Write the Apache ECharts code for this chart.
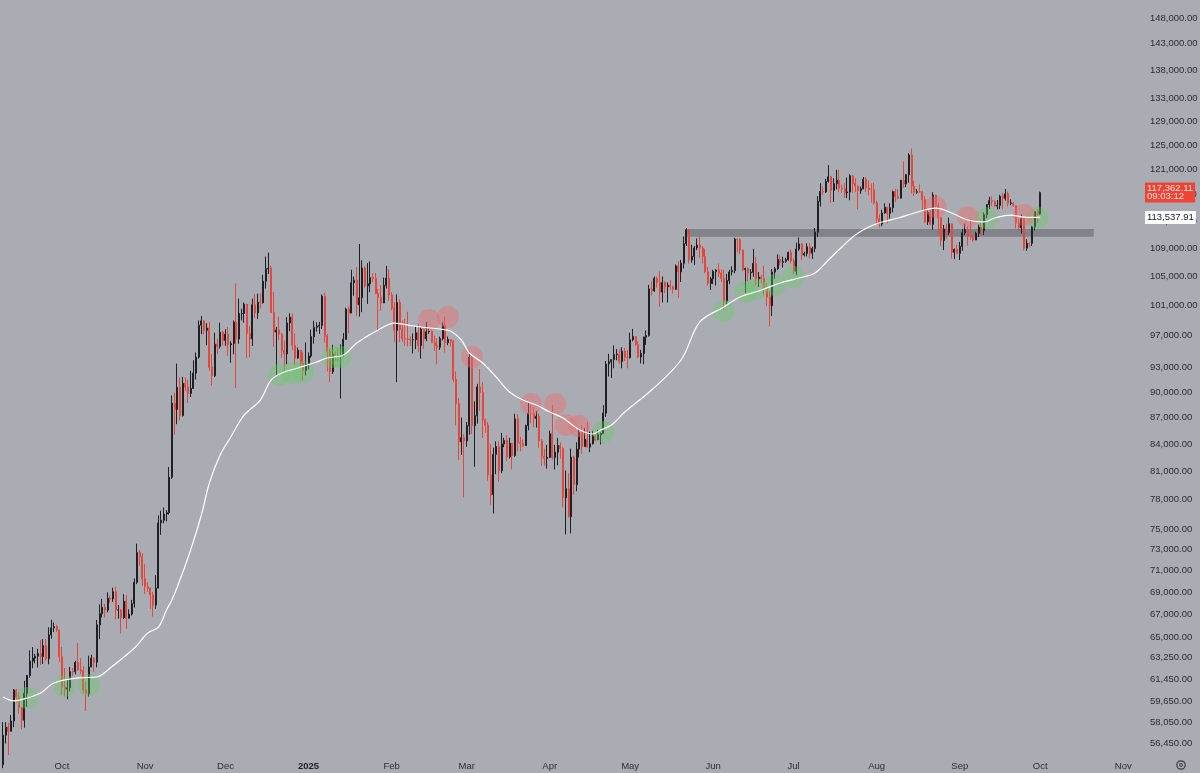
<!DOCTYPE html>
<html><head><meta charset="utf-8">
<script src="https://cdn.jsdelivr.net/npm/echarts@6/dist/echarts.min.js"></script>
<style>html,body{margin:0;padding:0;background:#aaacb3;}#c{width:1200px;height:773px;}</style>
</head><body><div id="c"></div>
<script>
// ---------- DATA ----------
const startDate = [2024, 8, 9];   // 2024-09-09 (first candle)
const totalDays = 424;            // axis runs to early Nov 2025
const firstOpen = 54840;
const closes = [
57040,57650,57340,58130,60570,60000,59180,58190,60310,61760,62950,63200,63350,63580,63330,64260,63140,65180,65790,65890,65600,63300,
60800,60630,60750,62070,62060,62820,62220,62130,60580,60270,62450,63190,62850,66050,67040,67610,67370,68430,68360,69030,67370,67370,66680,68160,66630,67010,67930,69900,72720,72340,70220,
69480,69340,68740,67810,69360,75640,75900,76540,76680,80370,88700,87950,90580,87250,91070,90600,89850,90450,92310,94290,98370,98950,97720,98010,93010,91970,95920,95650,97460,96410,
97190,95840,96000,98770,96590,99920,99920,101170,97320,96600,101100,100000,101420,101370,104300,106030,106140,100040,97490,97760,97220,95100,94690,98680,99430,95790,94170,95160,93530,92640,93430,
94420,96890,98110,98240,98360,102240,96950,95040,92480,94700,94570,94490,94520,96530,100500,99990,104080,104450,101090,102020,106150,103650,103960,104820,104710,102620,102080,101330,103730,104740,102410,
100650,97690,101400,97870,96620,96590,96530,96480,96500,97400,95750,97870,96620,97510,97570,96120,95770,95540,96640,98330,96130,96550,96250,91550,88630,84250,84710,84350,
86060,94260,86070,87220,90620,89960,86740,86150,80600,78530,82860,83720,81070,84000,84390,82580,84080,82720,86850,84170,84040,83830,86080,87500,87470,86900,87170,84350,82650,82390,82530,
85160,82510,83100,83840,83500,78200,79160,76270,82570,79600,83430,85290,83740,84540,83660,84030,84920,84450,85060,85170,87520,93440,93700,93980,94640,94640,93750,95040,94280,94210,
96490,96910,95890,94310,94750,96830,97030,103240,102970,104700,104120,102810,104110,103540,103740,103550,103190,106450,105610,106830,109640,111700,107280,107790,109010,109440,108990,107800,105640,103990,104640,
105650,105880,105430,104730,101580,104390,105600,105790,110290,110260,108690,105930,106090,105470,105550,106790,104600,104880,104660,103300,102120,100960,105580,106040,107340,106950,107090,107330,108360,107140,
105700,108850,109600,107990,108230,109200,108260,108930,111330,115990,117520,117440,119090,119840,117680,118760,119290,117990,117930,117300,117440,120000,118760,118360,117620,117950,119450,118080,117840,117830,115760,
113320,112530,114220,115070,114140,115020,117500,116690,116480,119290,118700,120170,123340,118360,117400,117480,117450,116250,112870,114270,112500,116940,115380,113480,110110,111800,111260,112580,108400,108810,108240,
109250,111240,111700,110720,110660,110190,111140,112070,111530,113960,115510,116100,115950,115270,115350,116790,116450,117140,115690,115710,115300,112740,112010,113330,108990,109700,109680,112120,114400,114060,
117362.11
];
const highs = [
58040,58040,57990,58590,60650,60650,60390,59200,61320,61790,63850,64130,63560,63990,64730,64800,64820,65830,66500,66260,66070,65620,
64130,62370,61470,62460,62370,62970,64480,63190,62520,61320,63400,63480,63280,66480,67880,68380,67920,68970,68680,69400,69490,67820,67450,68800,68730,67430,68280,70250,73580,72960,72660,
71600,69920,69400,69000,70560,76400,76880,77200,76930,81470,89600,89950,93480,91790,91850,91780,91470,92580,93900,94880,99000,99590,98990,98640,98830,94660,97400,96630,98700,97650,
97850,98140,96300,99000,104000,101900,100550,101400,101200,98250,101900,102500,102600,102650,105200,107780,108350,106500,102800,98150,99500,97400,96400,99450,99950,99900,97300,95500,95200,94900,96150,
94900,97800,98950,98750,98800,102500,102700,97250,95350,95850,95000,95400,95900,97350,100700,100850,105900,104950,106300,109590,107250,106400,106850,107100,105400,105450,103250,103750,104800,106450,106000,
102800,101450,102500,101800,99000,99200,100150,96900,97300,98300,98500,98100,97900,98800,97950,97700,97000,96700,96900,98750,99500,96900,96500,96500,92500,89300,87000,85100,
86500,95000,94400,88900,91000,92800,91200,86900,86500,84000,83600,84300,84300,85250,84700,85000,84700,84100,87450,87400,84800,84500,86200,88750,88500,88250,87750,87500,84550,83500,83900,
85500,88500,83900,84700,84200,83700,81100,80800,83500,82700,84200,85800,86100,85800,86500,85400,85450,85100,85600,85300,88450,93800,94700,94000,95750,95300,95300,95550,95450,95200,
97400,97900,96900,96300,95200,96900,97700,103800,104300,104950,104950,105700,104950,104300,104150,104500,103700,106650,107100,107300,110700,111950,111800,109500,109300,110400,110700,109300,108900,106300,104900,
105900,105950,106800,105950,105900,105300,105900,106400,110500,110400,110400,108800,106200,106200,106000,108900,107700,105600,105200,106500,104000,103000,106000,106300,108100,108000,107750,107600,108500,108800,
107500,109800,110550,109750,108450,109700,109750,109200,111950,116800,118800,118300,119500,121700,120000,119600,120950,120950,118600,118850,119700,120250,120100,119600,118500,118300,119800,119800,119250,118800,118900,
116100,114000,114700,115700,115100,115700,117650,117950,117900,119300,122300,120300,123650,124450,119200,117900,118600,117600,116800,114600,114800,117400,117000,115700,113650,112400,112600,113500,112650,108950,109500,
109900,111800,112600,112200,113400,111000,111400,112500,113250,114300,115500,116700,116750,116150,116200,117000,117300,117900,117500,116300,115850,115400,113300,114000,113550,110300,109800,112300,114400,114800,
117500
];
const lows = [
54590,56410,55560,57320,57650,59560,58700,57490,57610,59220,61570,62350,62760,62400,62620,62700,62980,62680,64850,65420,65430,62880,
60190,60050,59830,60460,61690,61830,62130,61860,60320,58900,60050,62440,62050,62420,64800,66700,66700,67150,68020,68100,66560,66600,65300,66560,65700,66620,66870,67580,69730,71460,69600,
68820,69020,67470,66800,67480,69330,74450,75600,75800,76470,80200,85070,86250,86670,87120,90100,88720,89420,90920,91520,94100,97220,97200,95800,92600,90800,91820,94700,95360,95780,
95720,94420,93580,94650,90500,95980,99000,98700,94150,94250,95700,99300,99200,100600,101250,103300,105300,100000,95600,92100,96450,94200,92450,93400,97600,95150,93300,94100,93000,91400,92000,
92750,94200,96000,97550,97250,97900,96100,92500,91200,92200,93800,93700,89250,94350,96500,97350,99950,102300,99600,99500,100100,103400,101200,102800,104150,102500,97750,100250,101300,103300,101600,
100350,96150,91200,96200,96250,95700,95650,95700,94750,95300,94900,94100,95350,96300,97250,96050,95100,93400,95200,96400,94850,95800,95600,91250,86100,82250,82800,78250,
83700,85050,85100,81500,86300,87800,84700,85250,80000,77500,76600,80700,79900,80800,83650,82100,82400,81200,82600,83200,83200,83650,83800,85550,86350,85900,85850,83600,81600,81600,81300,
82450,82300,81200,81650,82400,77200,74500,76200,74600,78500,78900,82500,82900,83700,83600,83100,83950,84300,84450,83950,85150,87100,91900,91700,92900,93900,93450,92900,93800,92900,
94100,96300,95700,94150,93500,93400,95850,96900,102350,102850,103400,100800,101400,102650,101400,103100,102600,103100,102000,104200,106100,109300,106800,106900,106600,108700,107600,106800,105400,103700,103100,
103900,103700,104900,104200,100400,101100,103900,105100,105400,108400,108100,105700,102700,104300,104500,104900,103700,103500,104000,102400,100900,98200,99600,104650,105900,106500,106200,106900,107200,106800,
105250,105150,108600,107250,107800,107800,107500,107450,108400,110600,115200,116950,117300,118900,115750,115900,117850,117400,117300,116500,116500,116150,117300,117400,114750,117150,117850,117450,116900,115800,115500,
112700,112000,112200,114100,112650,113350,114300,115900,116300,116500,118100,118200,118900,117200,116800,117150,117300,114700,112700,112400,112400,111700,114600,110900,109300,108700,110400,110900,107500,107400,108100,
107300,108600,110900,109350,110200,109900,110150,110600,110800,110900,113400,114800,115250,115150,114750,114800,114800,116100,115200,115400,115150,111900,111500,111100,108650,108600,109100,109300,111600,112700,
113950
];
// moving-average line
const maDates = ['2024-09-09','2024-09-13','2024-09-18','2024-09-23','2024-09-28','2024-10-07','2024-10-14','2024-10-19','2024-10-28','2024-11-02','2024-11-06','2024-11-09','2024-11-11','2024-11-14','2024-11-18','2024-11-22','2024-11-25','2024-11-29','2024-12-03','2024-12-08','2024-12-14','2024-12-18','2024-12-22','2024-12-28','2025-01-03','2025-01-08','2025-01-14','2025-01-19','2025-01-27','2025-02-02','2025-02-05','2025-02-12','2025-02-19','2025-02-23','2025-02-27','2025-03-02','2025-03-07','2025-03-12','2025-03-17','2025-03-22','2025-03-27','2025-04-01','2025-04-06','2025-04-11','2025-04-17','2025-04-20','2025-04-24','2025-04-29','2025-05-09','2025-05-20','2025-05-27','2025-06-05','2025-06-11','2025-06-19','2025-06-26','2025-07-03','2025-07-09','2025-07-14','2025-07-19','2025-07-24','2025-07-29','2025-08-03','2025-08-09','2025-08-15','2025-08-19','2025-08-23','2025-08-29','2025-09-04','2025-09-10','2025-09-14','2025-09-20','2025-09-25','2025-10-01'];
const maValues = [60010,59700,59930,60330,61140,61550,61630,62370,64050,65340,65860,67370,68270,70110,72960,76440,79760,82780,84790,87310,89060,91460,92320,92940,93550,94180,94550,96070,97750,98660,98520,98140,97880,97620,96460,94810,93550,91830,90020,89060,88470,87650,86960,85810,85130,85580,86150,87650,90260,93930,98800,100790,102140,103090,104050,104750,105450,107290,109160,110910,112100,112850,113440,114200,114660,114960,114200,113140,112850,113440,113890,113590,113537.91];
const greenDates = ['2024-09-18','2024-10-02','2024-10-11','2024-12-21','2024-12-26','2024-12-30','2025-01-10','2025-01-13','2025-04-21','2025-06-05','2025-06-13','2025-06-17','2025-06-24','2025-07-01','2025-09-11','2025-09-30'];
const greenValues = [59930,60890,60970,92080,92320,92440,94300,94300,85360,100250,102820,103230,103780,104890,113440,113440];
const redDates = ['2025-02-15','2025-02-22','2025-03-03','2025-03-25','2025-04-03','2025-04-07','2025-04-12','2025-08-23','2025-09-04','2025-09-25'];
const redValues = [99060,99460,94300,88590,88590,86150,86040,115110,113590,113890];
const priceTicks = [148000,143000,138000,133000,129000,125000,121000,117000,113000,109000,105000,101000,97000,93000,90000,87000,84000,81000,78000,75000,73000,71000,69000,67000,65000,63250,61450,59650,58050,56450];
const lastPrice = 117362.11, lastTime = '09:03:12', maLast = 113537.91;
const band = {from: '2025-05-22', to: '2025-10-21', low: 110650, high: 111800};
const monthNames = ['Jan','Feb','Mar','Apr','May','Jun','Jul','Aug','Sep','Oct','Nov','Dec'];

// ---------- BUILD ----------
const pad = n => (n < 10 ? '0' : '') + n;
const dates = [];
for (let i = 0; i < totalDays; i++) {
  const d = new Date(Date.UTC(startDate[0], startDate[1], startDate[2] + i));
  dates.push(d.getUTCFullYear() + '-' + pad(d.getUTCMonth() + 1) + '-' + pad(d.getUTCDate()));
}
const candles = closes.map((c, i) => [i === 0 ? firstOpen : closes[i - 1], c, lows[i], highs[i]]);
const fmt = v => v.toLocaleString('en-US', {minimumFractionDigits: 2, maximumFractionDigits: 2});
const FONT = 'Liberation Sans, Arial, sans-serif';

const tickLines = priceTicks.map(v => ({yAxis: v, label: {formatter: fmt(v)}}));
tickLines.push({yAxis: maLast, label: {formatter: fmt(maLast), backgroundColor: '#ffffff', color: '#131722', padding: [2, 2, 1, 2], lineHeight: 10, distance: 7}});
tickLines.push({yAxis: lastPrice, label: {formatter: fmt(lastPrice) + '\n' + lastTime, backgroundColor: '#ee4436', color: '#ffe4e0', padding: [2, 2, 1, 2], lineHeight: 8.5, distance: 7}});

const chart = echarts.init(document.getElementById('c'), null, {renderer: 'canvas'});
chart.setOption({
  backgroundColor: '#aaacb3',
  animation: false,
  grid: {left: 1.7, right: 62, top: 0, bottom: 17, containLabel: false},
  xAxis: {
    type: 'category', data: dates, boundaryGap: true,
    axisLine: {show: false}, axisTick: {show: false}, splitLine: {show: false},
    axisLabel: {
      interval: (i, v) => v.slice(8) === '01',
      margin: 5, color: '#2b2d36', fontSize: 9.5, fontFamily: FONT,
      formatter: v => { const m = +v.slice(5, 7) - 1; return m === 0 ? '{y|' + v.slice(0, 4) + '}' : monthNames[m]; },
      rich: {y: {fontWeight: 'bold', fontSize: 9.5, color: '#1e2028', fontFamily: FONT}}
    }
  },
  yAxis: {
    type: 'log', logBase: 10, min: 55484, max: 151585, position: 'right',
    axisLine: {show: false}, axisTick: {show: false}, splitLine: {show: false}, axisLabel: {show: false}
  },
  graphic: [
    {type: 'circle', shape: {cx: 1181, cy: 765, r: 4.2}, style: {fill: 'none', stroke: '#3a3c44', lineWidth: 1.2}},
    {type: 'circle', shape: {cx: 1181, cy: 765, r: 1.5}, style: {fill: 'none', stroke: '#3a3c44', lineWidth: 1}}
  ],
  series: [
    {
      type: 'candlestick', data: candles, barWidth: 1.5, z: 3,
      itemStyle: {color: '#1f2024', color0: '#e5473d', borderColor: '#1f2024', borderColor0: '#e5473d', borderWidth: 1},
      markArea: {
        silent: true,
        itemStyle: {color: 'rgba(80,81,87,0.45)'},
        data: [[{xAxis: band.from, yAxis: band.high}, {xAxis: band.to, yAxis: band.low}]]
      },
      markLine: {
        silent: true, symbol: ['none', 'none'], animation: false,
        lineStyle: {color: 'rgba(0,0,0,0)', width: 0},
        label: {position: 'end', distance: 12, color: '#2b2d36', fontSize: 9.5, fontFamily: FONT},
        data: tickLines
      }
    },
    {
      type: 'scatter', z: 4, symbolSize: 22, silent: true,
      data: greenDates.map((d, i) => [d, greenValues[i]]),
      itemStyle: {color: 'rgba(96,205,96,0.45)'}
    },
    {
      type: 'scatter', z: 4, symbolSize: 22, silent: true,
      data: redDates.map((d, i) => [d, redValues[i]]),
      itemStyle: {color: 'rgba(240,105,105,0.52)'}
    },
    {
      type: 'line', z: 5, smooth: 0.35, symbol: 'none', silent: true,
      data: maDates.map((d, i) => [d, maValues[i]]),
      lineStyle: {color: '#ffffff', width: 1.2}
    }
  ]
});
</script></body></html>
